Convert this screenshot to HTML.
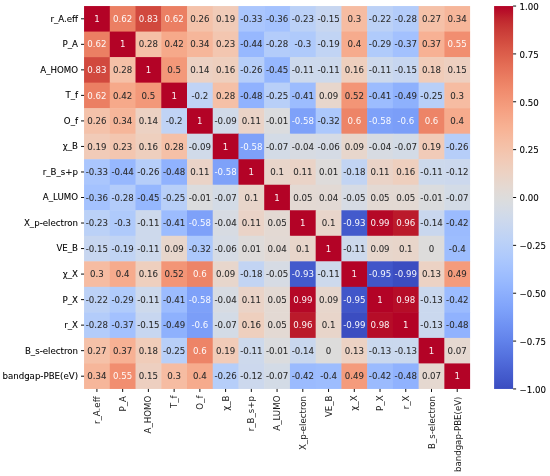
<!DOCTYPE html>
<html lang="en"><head><meta charset="utf-8"><title>Correlation heatmap</title>
<style>html,body{margin:0;padding:0;background:#fff}body{width:550px;height:476px;overflow:hidden}svg{display:block}text{font-family:"DejaVu Sans","Liberation Sans",sans-serif;font-size:8.64px;stroke:#000;stroke-width:0.08px}.w{fill:#fff;fill-opacity:.94;stroke:none}.d{fill:#2b2b2b;stroke:#2b2b2b;stroke-width:0.06px}.r{stroke:none;fill:#1c1c1c}</style></head><body>
<svg width="550" height="476" viewBox="0 0 550 476">
<rect width="550" height="476" fill="#ffffff"/>
<defs><linearGradient id="cw" x1="0" y1="0" x2="0" y2="1"><stop offset="0.0000" stop-color="#b30326"/><stop offset="0.0156" stop-color="#b81129"/><stop offset="0.0312" stop-color="#be232d"/><stop offset="0.0469" stop-color="#c43032"/><stop offset="0.0625" stop-color="#c93b37"/><stop offset="0.0781" stop-color="#ce443c"/><stop offset="0.0938" stop-color="#d34d40"/><stop offset="0.1094" stop-color="#d85646"/><stop offset="0.1250" stop-color="#dc5e4b"/><stop offset="0.1406" stop-color="#e06650"/><stop offset="0.1562" stop-color="#e46e56"/><stop offset="0.1719" stop-color="#e7755c"/><stop offset="0.1875" stop-color="#ea7d61"/><stop offset="0.2031" stop-color="#ed8467"/><stop offset="0.2188" stop-color="#f08b6d"/><stop offset="0.2344" stop-color="#f29173"/><stop offset="0.2500" stop-color="#f39879"/><stop offset="0.2656" stop-color="#f59e7f"/><stop offset="0.2812" stop-color="#f6a486"/><stop offset="0.2969" stop-color="#f6aa8c"/><stop offset="0.3125" stop-color="#f7b092"/><stop offset="0.3281" stop-color="#f7b598"/><stop offset="0.3438" stop-color="#f6ba9f"/><stop offset="0.3594" stop-color="#f5bfa5"/><stop offset="0.3750" stop-color="#f4c3ab"/><stop offset="0.3906" stop-color="#f2c7b2"/><stop offset="0.4062" stop-color="#f1cbb8"/><stop offset="0.4219" stop-color="#eecfbe"/><stop offset="0.4375" stop-color="#ecd2c4"/><stop offset="0.4531" stop-color="#e8d5ca"/><stop offset="0.4688" stop-color="#e5d8d0"/><stop offset="0.4844" stop-color="#e1dad6"/><stop offset="0.5000" stop-color="#dddcdb"/><stop offset="0.5156" stop-color="#d9dce0"/><stop offset="0.5312" stop-color="#d5dbe5"/><stop offset="0.5469" stop-color="#d0dae9"/><stop offset="0.5625" stop-color="#ccd8ed"/><stop offset="0.5781" stop-color="#c7d6f0"/><stop offset="0.5938" stop-color="#c2d4f3"/><stop offset="0.6094" stop-color="#bdd2f6"/><stop offset="0.6250" stop-color="#b8cff8"/><stop offset="0.6406" stop-color="#b3ccfa"/><stop offset="0.6562" stop-color="#aec9fc"/><stop offset="0.6719" stop-color="#a8c5fd"/><stop offset="0.6875" stop-color="#a3c1fe"/><stop offset="0.7031" stop-color="#9dbdfe"/><stop offset="0.7188" stop-color="#98b9fe"/><stop offset="0.7344" stop-color="#92b4fe"/><stop offset="0.7500" stop-color="#8daffd"/><stop offset="0.7656" stop-color="#87aafc"/><stop offset="0.7812" stop-color="#82a5fb"/><stop offset="0.7969" stop-color="#7ca0f9"/><stop offset="0.8125" stop-color="#779af6"/><stop offset="0.8281" stop-color="#7194f4"/><stop offset="0.8438" stop-color="#6c8ef1"/><stop offset="0.8594" stop-color="#6788ed"/><stop offset="0.8750" stop-color="#6182ea"/><stop offset="0.8906" stop-color="#5c7be5"/><stop offset="0.9062" stop-color="#5775e1"/><stop offset="0.9219" stop-color="#526edc"/><stop offset="0.9375" stop-color="#4d67d7"/><stop offset="0.9531" stop-color="#4860d1"/><stop offset="0.9688" stop-color="#435acc"/><stop offset="0.9844" stop-color="#3f53c6"/><stop offset="1.0000" stop-color="#3a4cc0"/></linearGradient></defs>
<g>
<rect x="84.05" y="6.05" width="26.24" height="26.03" fill="#b30326"/>
<rect x="109.79" y="6.05" width="26.24" height="26.03" fill="#eb7f63"/>
<rect x="135.52" y="6.05" width="26.24" height="26.03" fill="#d1493e"/>
<rect x="161.26" y="6.05" width="26.24" height="26.03" fill="#eb7f63"/>
<rect x="187.00" y="6.05" width="26.24" height="26.03" fill="#f4c2aa"/>
<rect x="212.73" y="6.05" width="26.24" height="26.03" fill="#f1cbb8"/>
<rect x="238.47" y="6.05" width="26.24" height="26.03" fill="#aac6fd"/>
<rect x="264.21" y="6.05" width="26.24" height="26.03" fill="#a4c2fe"/>
<rect x="289.94" y="6.05" width="26.24" height="26.03" fill="#bbd1f7"/>
<rect x="315.68" y="6.05" width="26.24" height="26.03" fill="#c7d6f0"/>
<rect x="341.42" y="6.05" width="26.24" height="26.03" fill="#f6bca2"/>
<rect x="367.15" y="6.05" width="26.24" height="26.03" fill="#bcd1f6"/>
<rect x="392.89" y="6.05" width="26.24" height="26.03" fill="#b3ccfa"/>
<rect x="418.63" y="6.05" width="26.24" height="26.03" fill="#f5c1a8"/>
<rect x="444.36" y="6.05" width="25.74" height="26.03" fill="#f6b69a"/>
<rect x="84.05" y="31.58" width="26.24" height="26.03" fill="#eb7f63"/>
<rect x="109.79" y="31.58" width="26.24" height="26.03" fill="#b30326"/>
<rect x="135.52" y="31.58" width="26.24" height="26.03" fill="#f5c0a7"/>
<rect x="161.26" y="31.58" width="26.24" height="26.03" fill="#f6a98a"/>
<rect x="187.00" y="31.58" width="26.24" height="26.03" fill="#f6b69a"/>
<rect x="212.73" y="31.58" width="26.24" height="26.03" fill="#f3c6b0"/>
<rect x="238.47" y="31.58" width="26.24" height="26.03" fill="#97b8fe"/>
<rect x="264.21" y="31.58" width="26.24" height="26.03" fill="#b3ccfa"/>
<rect x="289.94" y="31.58" width="26.24" height="26.03" fill="#afcafb"/>
<rect x="315.68" y="31.58" width="26.24" height="26.03" fill="#c1d4f4"/>
<rect x="341.42" y="31.58" width="26.24" height="26.03" fill="#f6ab8d"/>
<rect x="367.15" y="31.58" width="26.24" height="26.03" fill="#b0cbfb"/>
<rect x="392.89" y="31.58" width="26.24" height="26.03" fill="#a3c1fe"/>
<rect x="418.63" y="31.58" width="26.24" height="26.03" fill="#f7b194"/>
<rect x="444.36" y="31.58" width="25.74" height="26.03" fill="#f18e70"/>
<rect x="84.05" y="57.10" width="26.24" height="26.03" fill="#d1493e"/>
<rect x="109.79" y="57.10" width="26.24" height="26.03" fill="#f5c0a7"/>
<rect x="135.52" y="57.10" width="26.24" height="26.03" fill="#b30326"/>
<rect x="161.26" y="57.10" width="26.24" height="26.03" fill="#f39879"/>
<rect x="187.00" y="57.10" width="26.24" height="26.03" fill="#ecd1c3"/>
<rect x="212.73" y="57.10" width="26.24" height="26.03" fill="#eecfbe"/>
<rect x="238.47" y="57.10" width="26.24" height="26.03" fill="#b6cef9"/>
<rect x="264.21" y="57.10" width="26.24" height="26.03" fill="#95b7fe"/>
<rect x="289.94" y="57.10" width="26.24" height="26.03" fill="#cdd9ec"/>
<rect x="315.68" y="57.10" width="26.24" height="26.03" fill="#cdd9ec"/>
<rect x="341.42" y="57.10" width="26.24" height="26.03" fill="#eecfbe"/>
<rect x="367.15" y="57.10" width="26.24" height="26.03" fill="#cdd9ec"/>
<rect x="392.89" y="57.10" width="26.24" height="26.03" fill="#c7d6f0"/>
<rect x="418.63" y="57.10" width="26.24" height="26.03" fill="#f0ccb9"/>
<rect x="444.36" y="57.10" width="25.74" height="26.03" fill="#edcfc0"/>
<rect x="84.05" y="82.63" width="26.24" height="26.03" fill="#eb7f63"/>
<rect x="109.79" y="82.63" width="26.24" height="26.03" fill="#f6a98a"/>
<rect x="135.52" y="82.63" width="26.24" height="26.03" fill="#f39879"/>
<rect x="161.26" y="82.63" width="26.24" height="26.03" fill="#b30326"/>
<rect x="187.00" y="82.63" width="26.24" height="26.03" fill="#c0d3f5"/>
<rect x="212.73" y="82.63" width="26.24" height="26.03" fill="#f5c0a7"/>
<rect x="238.47" y="82.63" width="26.24" height="26.03" fill="#90b2fe"/>
<rect x="264.21" y="82.63" width="26.24" height="26.03" fill="#b8cff8"/>
<rect x="289.94" y="82.63" width="26.24" height="26.03" fill="#9cbcfe"/>
<rect x="315.68" y="82.63" width="26.24" height="26.03" fill="#e7d6cc"/>
<rect x="341.42" y="82.63" width="26.24" height="26.03" fill="#f39576"/>
<rect x="367.15" y="82.63" width="26.24" height="26.03" fill="#9cbcfe"/>
<rect x="392.89" y="82.63" width="26.24" height="26.03" fill="#8eb1fd"/>
<rect x="418.63" y="82.63" width="26.24" height="26.03" fill="#b8cff8"/>
<rect x="444.36" y="82.63" width="25.74" height="26.03" fill="#f6bca2"/>
<rect x="84.05" y="108.16" width="26.24" height="26.03" fill="#f4c2aa"/>
<rect x="109.79" y="108.16" width="26.24" height="26.03" fill="#f6b69a"/>
<rect x="135.52" y="108.16" width="26.24" height="26.03" fill="#ecd1c3"/>
<rect x="161.26" y="108.16" width="26.24" height="26.03" fill="#c0d3f5"/>
<rect x="187.00" y="108.16" width="26.24" height="26.03" fill="#b30326"/>
<rect x="212.73" y="108.16" width="26.24" height="26.03" fill="#d0dae9"/>
<rect x="238.47" y="108.16" width="26.24" height="26.03" fill="#ead3c7"/>
<rect x="264.21" y="108.16" width="26.24" height="26.03" fill="#dbdcde"/>
<rect x="289.94" y="108.16" width="26.24" height="26.03" fill="#7ea1f9"/>
<rect x="315.68" y="108.16" width="26.24" height="26.03" fill="#acc8fc"/>
<rect x="341.42" y="108.16" width="26.24" height="26.03" fill="#ed8467"/>
<rect x="367.15" y="108.16" width="26.24" height="26.03" fill="#7ea1f9"/>
<rect x="392.89" y="108.16" width="26.24" height="26.03" fill="#7b9ef8"/>
<rect x="418.63" y="108.16" width="26.24" height="26.03" fill="#ed8467"/>
<rect x="444.36" y="108.16" width="25.74" height="26.03" fill="#f6ab8d"/>
<rect x="84.05" y="133.68" width="26.24" height="26.03" fill="#f1cbb8"/>
<rect x="109.79" y="133.68" width="26.24" height="26.03" fill="#f3c6b0"/>
<rect x="135.52" y="133.68" width="26.24" height="26.03" fill="#eecfbe"/>
<rect x="161.26" y="133.68" width="26.24" height="26.03" fill="#f5c0a7"/>
<rect x="187.00" y="133.68" width="26.24" height="26.03" fill="#d0dae9"/>
<rect x="212.73" y="133.68" width="26.24" height="26.03" fill="#b30326"/>
<rect x="238.47" y="133.68" width="26.24" height="26.03" fill="#7ea1f9"/>
<rect x="264.21" y="133.68" width="26.24" height="26.03" fill="#d3dbe6"/>
<rect x="289.94" y="133.68" width="26.24" height="26.03" fill="#d7dbe2"/>
<rect x="315.68" y="133.68" width="26.24" height="26.03" fill="#d5dbe5"/>
<rect x="341.42" y="133.68" width="26.24" height="26.03" fill="#e7d6cc"/>
<rect x="367.15" y="133.68" width="26.24" height="26.03" fill="#d7dbe2"/>
<rect x="392.89" y="133.68" width="26.24" height="26.03" fill="#d3dbe6"/>
<rect x="418.63" y="133.68" width="26.24" height="26.03" fill="#f1cbb8"/>
<rect x="444.36" y="133.68" width="25.74" height="26.03" fill="#b6cef9"/>
<rect x="84.05" y="159.21" width="26.24" height="26.03" fill="#aac6fd"/>
<rect x="109.79" y="159.21" width="26.24" height="26.03" fill="#97b8fe"/>
<rect x="135.52" y="159.21" width="26.24" height="26.03" fill="#b6cef9"/>
<rect x="161.26" y="159.21" width="26.24" height="26.03" fill="#90b2fe"/>
<rect x="187.00" y="159.21" width="26.24" height="26.03" fill="#ead3c7"/>
<rect x="212.73" y="159.21" width="26.24" height="26.03" fill="#7ea1f9"/>
<rect x="238.47" y="159.21" width="26.24" height="26.03" fill="#b30326"/>
<rect x="264.21" y="159.21" width="26.24" height="26.03" fill="#e8d5ca"/>
<rect x="289.94" y="159.21" width="26.24" height="26.03" fill="#ead3c7"/>
<rect x="315.68" y="159.21" width="26.24" height="26.03" fill="#dedbda"/>
<rect x="341.42" y="159.21" width="26.24" height="26.03" fill="#c2d4f3"/>
<rect x="367.15" y="159.21" width="26.24" height="26.03" fill="#ead3c7"/>
<rect x="392.89" y="159.21" width="26.24" height="26.03" fill="#eecfbe"/>
<rect x="418.63" y="159.21" width="26.24" height="26.03" fill="#cdd9ec"/>
<rect x="444.36" y="159.21" width="25.74" height="26.03" fill="#ccd8ed"/>
<rect x="84.05" y="184.74" width="26.24" height="26.03" fill="#a4c2fe"/>
<rect x="109.79" y="184.74" width="26.24" height="26.03" fill="#b3ccfa"/>
<rect x="135.52" y="184.74" width="26.24" height="26.03" fill="#95b7fe"/>
<rect x="161.26" y="184.74" width="26.24" height="26.03" fill="#b8cff8"/>
<rect x="187.00" y="184.74" width="26.24" height="26.03" fill="#dbdcde"/>
<rect x="212.73" y="184.74" width="26.24" height="26.03" fill="#d3dbe6"/>
<rect x="238.47" y="184.74" width="26.24" height="26.03" fill="#e8d5ca"/>
<rect x="264.21" y="184.74" width="26.24" height="26.03" fill="#b30326"/>
<rect x="289.94" y="184.74" width="26.24" height="26.03" fill="#e3d9d3"/>
<rect x="315.68" y="184.74" width="26.24" height="26.03" fill="#e2d9d4"/>
<rect x="341.42" y="184.74" width="26.24" height="26.03" fill="#d6dbe4"/>
<rect x="367.15" y="184.74" width="26.24" height="26.03" fill="#e3d9d3"/>
<rect x="392.89" y="184.74" width="26.24" height="26.03" fill="#e3d9d3"/>
<rect x="418.63" y="184.74" width="26.24" height="26.03" fill="#dbdcde"/>
<rect x="444.36" y="184.74" width="25.74" height="26.03" fill="#d3dbe6"/>
<rect x="84.05" y="210.26" width="26.24" height="26.03" fill="#bbd1f7"/>
<rect x="109.79" y="210.26" width="26.24" height="26.03" fill="#afcafb"/>
<rect x="135.52" y="210.26" width="26.24" height="26.03" fill="#cdd9ec"/>
<rect x="161.26" y="210.26" width="26.24" height="26.03" fill="#9cbcfe"/>
<rect x="187.00" y="210.26" width="26.24" height="26.03" fill="#7ea1f9"/>
<rect x="212.73" y="210.26" width="26.24" height="26.03" fill="#d7dbe2"/>
<rect x="238.47" y="210.26" width="26.24" height="26.03" fill="#ead3c7"/>
<rect x="264.21" y="210.26" width="26.24" height="26.03" fill="#e3d9d3"/>
<rect x="289.94" y="210.26" width="26.24" height="26.03" fill="#b30326"/>
<rect x="315.68" y="210.26" width="26.24" height="26.03" fill="#e8d5ca"/>
<rect x="341.42" y="210.26" width="26.24" height="26.03" fill="#435acc"/>
<rect x="367.15" y="210.26" width="26.24" height="26.03" fill="#b50827"/>
<rect x="392.89" y="210.26" width="26.24" height="26.03" fill="#bb1a2b"/>
<rect x="418.63" y="210.26" width="26.24" height="26.03" fill="#c9d7ee"/>
<rect x="444.36" y="210.26" width="25.74" height="26.03" fill="#9bbbfe"/>
<rect x="84.05" y="235.79" width="26.24" height="26.03" fill="#c7d6f0"/>
<rect x="109.79" y="235.79" width="26.24" height="26.03" fill="#c1d4f4"/>
<rect x="135.52" y="235.79" width="26.24" height="26.03" fill="#cdd9ec"/>
<rect x="161.26" y="235.79" width="26.24" height="26.03" fill="#e7d6cc"/>
<rect x="187.00" y="235.79" width="26.24" height="26.03" fill="#acc8fc"/>
<rect x="212.73" y="235.79" width="26.24" height="26.03" fill="#d5dbe5"/>
<rect x="238.47" y="235.79" width="26.24" height="26.03" fill="#dedbda"/>
<rect x="264.21" y="235.79" width="26.24" height="26.03" fill="#e2d9d4"/>
<rect x="289.94" y="235.79" width="26.24" height="26.03" fill="#e8d5ca"/>
<rect x="315.68" y="235.79" width="26.24" height="26.03" fill="#b30326"/>
<rect x="341.42" y="235.79" width="26.24" height="26.03" fill="#cdd9ec"/>
<rect x="367.15" y="235.79" width="26.24" height="26.03" fill="#e7d6cc"/>
<rect x="392.89" y="235.79" width="26.24" height="26.03" fill="#e8d5ca"/>
<rect x="418.63" y="235.79" width="26.24" height="26.03" fill="#dddcdb"/>
<rect x="444.36" y="235.79" width="25.74" height="26.03" fill="#9dbdfe"/>
<rect x="84.05" y="261.32" width="26.24" height="26.03" fill="#f6bca2"/>
<rect x="109.79" y="261.32" width="26.24" height="26.03" fill="#f6ab8d"/>
<rect x="135.52" y="261.32" width="26.24" height="26.03" fill="#eecfbe"/>
<rect x="161.26" y="261.32" width="26.24" height="26.03" fill="#f39576"/>
<rect x="187.00" y="261.32" width="26.24" height="26.03" fill="#ed8467"/>
<rect x="212.73" y="261.32" width="26.24" height="26.03" fill="#e7d6cc"/>
<rect x="238.47" y="261.32" width="26.24" height="26.03" fill="#c2d4f3"/>
<rect x="264.21" y="261.32" width="26.24" height="26.03" fill="#d6dbe4"/>
<rect x="289.94" y="261.32" width="26.24" height="26.03" fill="#435acc"/>
<rect x="315.68" y="261.32" width="26.24" height="26.03" fill="#cdd9ec"/>
<rect x="341.42" y="261.32" width="26.24" height="26.03" fill="#b30326"/>
<rect x="367.15" y="261.32" width="26.24" height="26.03" fill="#4156c9"/>
<rect x="392.89" y="261.32" width="26.24" height="26.03" fill="#3b4dc1"/>
<rect x="418.63" y="261.32" width="26.24" height="26.03" fill="#ecd2c4"/>
<rect x="444.36" y="261.32" width="25.74" height="26.03" fill="#f49b7c"/>
<rect x="84.05" y="286.84" width="26.24" height="26.03" fill="#bcd1f6"/>
<rect x="109.79" y="286.84" width="26.24" height="26.03" fill="#b0cbfb"/>
<rect x="135.52" y="286.84" width="26.24" height="26.03" fill="#cdd9ec"/>
<rect x="161.26" y="286.84" width="26.24" height="26.03" fill="#9cbcfe"/>
<rect x="187.00" y="286.84" width="26.24" height="26.03" fill="#7ea1f9"/>
<rect x="212.73" y="286.84" width="26.24" height="26.03" fill="#d7dbe2"/>
<rect x="238.47" y="286.84" width="26.24" height="26.03" fill="#ead3c7"/>
<rect x="264.21" y="286.84" width="26.24" height="26.03" fill="#e3d9d3"/>
<rect x="289.94" y="286.84" width="26.24" height="26.03" fill="#b50827"/>
<rect x="315.68" y="286.84" width="26.24" height="26.03" fill="#e7d6cc"/>
<rect x="341.42" y="286.84" width="26.24" height="26.03" fill="#4156c9"/>
<rect x="367.15" y="286.84" width="26.24" height="26.03" fill="#b30326"/>
<rect x="392.89" y="286.84" width="26.24" height="26.03" fill="#b60d28"/>
<rect x="418.63" y="286.84" width="26.24" height="26.03" fill="#cad8ee"/>
<rect x="444.36" y="286.84" width="25.74" height="26.03" fill="#9bbbfe"/>
<rect x="84.05" y="312.37" width="26.24" height="26.03" fill="#b3ccfa"/>
<rect x="109.79" y="312.37" width="26.24" height="26.03" fill="#a3c1fe"/>
<rect x="135.52" y="312.37" width="26.24" height="26.03" fill="#c7d6f0"/>
<rect x="161.26" y="312.37" width="26.24" height="26.03" fill="#8eb1fd"/>
<rect x="187.00" y="312.37" width="26.24" height="26.03" fill="#7b9ef8"/>
<rect x="212.73" y="312.37" width="26.24" height="26.03" fill="#d3dbe6"/>
<rect x="238.47" y="312.37" width="26.24" height="26.03" fill="#eecfbe"/>
<rect x="264.21" y="312.37" width="26.24" height="26.03" fill="#e3d9d3"/>
<rect x="289.94" y="312.37" width="26.24" height="26.03" fill="#bb1a2b"/>
<rect x="315.68" y="312.37" width="26.24" height="26.03" fill="#e8d5ca"/>
<rect x="341.42" y="312.37" width="26.24" height="26.03" fill="#3b4dc1"/>
<rect x="367.15" y="312.37" width="26.24" height="26.03" fill="#b60d28"/>
<rect x="392.89" y="312.37" width="26.24" height="26.03" fill="#b30326"/>
<rect x="418.63" y="312.37" width="26.24" height="26.03" fill="#cad8ee"/>
<rect x="444.36" y="312.37" width="25.74" height="26.03" fill="#90b2fe"/>
<rect x="84.05" y="337.90" width="26.24" height="26.03" fill="#f5c1a8"/>
<rect x="109.79" y="337.90" width="26.24" height="26.03" fill="#f7b194"/>
<rect x="135.52" y="337.90" width="26.24" height="26.03" fill="#f0ccb9"/>
<rect x="161.26" y="337.90" width="26.24" height="26.03" fill="#b8cff8"/>
<rect x="187.00" y="337.90" width="26.24" height="26.03" fill="#ed8467"/>
<rect x="212.73" y="337.90" width="26.24" height="26.03" fill="#f1cbb8"/>
<rect x="238.47" y="337.90" width="26.24" height="26.03" fill="#cdd9ec"/>
<rect x="264.21" y="337.90" width="26.24" height="26.03" fill="#dbdcde"/>
<rect x="289.94" y="337.90" width="26.24" height="26.03" fill="#c9d7ee"/>
<rect x="315.68" y="337.90" width="26.24" height="26.03" fill="#dddcdb"/>
<rect x="341.42" y="337.90" width="26.24" height="26.03" fill="#ecd2c4"/>
<rect x="367.15" y="337.90" width="26.24" height="26.03" fill="#cad8ee"/>
<rect x="392.89" y="337.90" width="26.24" height="26.03" fill="#cad8ee"/>
<rect x="418.63" y="337.90" width="26.24" height="26.03" fill="#b30326"/>
<rect x="444.36" y="337.90" width="25.74" height="26.03" fill="#e5d8d0"/>
<rect x="84.05" y="363.42" width="26.24" height="25.53" fill="#f6b69a"/>
<rect x="109.79" y="363.42" width="26.24" height="25.53" fill="#f18e70"/>
<rect x="135.52" y="363.42" width="26.24" height="25.53" fill="#edcfc0"/>
<rect x="161.26" y="363.42" width="26.24" height="25.53" fill="#f6bca2"/>
<rect x="187.00" y="363.42" width="26.24" height="25.53" fill="#f6ab8d"/>
<rect x="212.73" y="363.42" width="26.24" height="25.53" fill="#b6cef9"/>
<rect x="238.47" y="363.42" width="26.24" height="25.53" fill="#ccd8ed"/>
<rect x="264.21" y="363.42" width="26.24" height="25.53" fill="#d3dbe6"/>
<rect x="289.94" y="363.42" width="26.24" height="25.53" fill="#9bbbfe"/>
<rect x="315.68" y="363.42" width="26.24" height="25.53" fill="#9dbdfe"/>
<rect x="341.42" y="363.42" width="26.24" height="25.53" fill="#f49b7c"/>
<rect x="367.15" y="363.42" width="26.24" height="25.53" fill="#9bbbfe"/>
<rect x="392.89" y="363.42" width="26.24" height="25.53" fill="#90b2fe"/>
<rect x="418.63" y="363.42" width="26.24" height="25.53" fill="#e5d8d0"/>
<rect x="444.36" y="363.42" width="25.74" height="25.53" fill="#b30326"/>
</g>
<rect x="494.10" y="6.05" width="19.00" height="382.90" fill="url(#cw)"/>
<g stroke="#000" stroke-width="0.95">
<line x1="96.92" y1="388.95" x2="96.92" y2="391.97"/>
<line x1="81.03" y1="18.81" x2="84.05" y2="18.81"/>
<line x1="122.66" y1="388.95" x2="122.66" y2="391.97"/>
<line x1="81.03" y1="44.34" x2="84.05" y2="44.34"/>
<line x1="148.39" y1="388.95" x2="148.39" y2="391.97"/>
<line x1="81.03" y1="69.87" x2="84.05" y2="69.87"/>
<line x1="174.13" y1="388.95" x2="174.13" y2="391.97"/>
<line x1="81.03" y1="95.39" x2="84.05" y2="95.39"/>
<line x1="199.87" y1="388.95" x2="199.87" y2="391.97"/>
<line x1="81.03" y1="120.92" x2="84.05" y2="120.92"/>
<line x1="225.60" y1="388.95" x2="225.60" y2="391.97"/>
<line x1="81.03" y1="146.45" x2="84.05" y2="146.45"/>
<line x1="251.34" y1="388.95" x2="251.34" y2="391.97"/>
<line x1="81.03" y1="171.97" x2="84.05" y2="171.97"/>
<line x1="277.07" y1="388.95" x2="277.07" y2="391.97"/>
<line x1="81.03" y1="197.50" x2="84.05" y2="197.50"/>
<line x1="302.81" y1="388.95" x2="302.81" y2="391.97"/>
<line x1="81.03" y1="223.03" x2="84.05" y2="223.03"/>
<line x1="328.55" y1="388.95" x2="328.55" y2="391.97"/>
<line x1="81.03" y1="248.55" x2="84.05" y2="248.55"/>
<line x1="354.29" y1="388.95" x2="354.29" y2="391.97"/>
<line x1="81.03" y1="274.08" x2="84.05" y2="274.08"/>
<line x1="380.02" y1="388.95" x2="380.02" y2="391.97"/>
<line x1="81.03" y1="299.61" x2="84.05" y2="299.61"/>
<line x1="405.76" y1="388.95" x2="405.76" y2="391.97"/>
<line x1="81.03" y1="325.13" x2="84.05" y2="325.13"/>
<line x1="431.50" y1="388.95" x2="431.50" y2="391.97"/>
<line x1="81.03" y1="350.66" x2="84.05" y2="350.66"/>
<line x1="457.23" y1="388.95" x2="457.23" y2="391.97"/>
<line x1="81.03" y1="376.19" x2="84.05" y2="376.19"/>
<line x1="513.10" y1="6.05" x2="516.12" y2="6.05"/>
<line x1="513.10" y1="53.91" x2="516.12" y2="53.91"/>
<line x1="513.10" y1="101.77" x2="516.12" y2="101.77"/>
<line x1="513.10" y1="149.64" x2="516.12" y2="149.64"/>
<line x1="513.10" y1="197.50" x2="516.12" y2="197.50"/>
<line x1="513.10" y1="245.36" x2="516.12" y2="245.36"/>
<line x1="513.10" y1="293.22" x2="516.12" y2="293.22"/>
<line x1="513.10" y1="341.09" x2="516.12" y2="341.09"/>
<line x1="513.10" y1="388.95" x2="516.12" y2="388.95"/>
</g>
<text x="100.08" y="424.00" class="r" transform="rotate(-90 100.08 424.00)">r_A.eff</text>
<text x="125.70" y="411.47" class="r" transform="rotate(-90 125.70 411.47)">P_A</text>
<text x="151.48" y="433.40" class="r" transform="rotate(-90 151.48 433.40)">A_HOMO</text>
<text x="177.29" y="408.07" class="r" transform="rotate(-90 177.29 408.07)">T_f</text>
<text x="203.03" y="409.69" class="r" transform="rotate(-90 203.03 409.69)">O_f</text>
<text x="228.65" y="410.67" class="r" transform="rotate(-90 228.65 410.67)">χ_B</text>
<text x="254.38" y="431.36" class="r" transform="rotate(-90 254.38 431.36)">r_B_s+p</text>
<text x="280.16" y="430.71" class="r" transform="rotate(-90 280.16 430.71)">A_LUMO</text>
<text x="305.98" y="450.03" class="r" transform="rotate(-90 305.98 450.03)">X_p-electron</text>
<text x="331.59" y="417.04" class="r" transform="rotate(-90 331.59 417.04)">VE_B</text>
<text x="357.33" y="410.66" class="r" transform="rotate(-90 357.33 410.66)">χ_X</text>
<text x="383.07" y="410.88" class="r" transform="rotate(-90 383.07 410.88)">P_X</text>
<text x="408.80" y="409.32" class="r" transform="rotate(-90 408.80 409.32)">r_X</text>
<text x="434.66" y="449.06" class="r" transform="rotate(-90 434.66 449.06)">B_s-electron</text>
<text x="460.52" y="472.07" class="r" transform="rotate(-90 460.52 472.07)">bandgap-PBE(eV)</text>
<text x="78.00" y="21.83" text-anchor="end">r_A.eff</text>
<text x="78.00" y="47.23" text-anchor="end">P_A</text>
<text x="78.00" y="72.80" text-anchor="end">A_HOMO</text>
<text x="78.00" y="98.41" text-anchor="end">T_f</text>
<text x="78.00" y="123.93" text-anchor="end">O_f</text>
<text x="78.00" y="149.34" text-anchor="end">χ_B</text>
<text x="78.00" y="174.87" text-anchor="end">r_B_s+p</text>
<text x="78.00" y="200.44" text-anchor="end">A_LUMO</text>
<text x="78.00" y="226.04" text-anchor="end">X_p-electron</text>
<text x="78.00" y="251.45" text-anchor="end">VE_B</text>
<text x="78.00" y="276.97" text-anchor="end">χ_X</text>
<text x="78.00" y="302.50" text-anchor="end">P_X</text>
<text x="78.00" y="328.03" text-anchor="end">r_X</text>
<text x="78.00" y="353.67" text-anchor="end">B_s-electron</text>
<text x="78.00" y="379.32" text-anchor="end">bandgap-PBE(eV)</text>
<text x="96.92" y="21.95" text-anchor="middle" class="w">1</text>
<text x="122.65" y="21.95" text-anchor="middle" class="w">0.62</text>
<text x="148.39" y="21.95" text-anchor="middle" class="w">0.83</text>
<text x="174.13" y="21.95" text-anchor="middle" class="w">0.62</text>
<text x="199.87" y="21.95" text-anchor="middle" class="d">0.26</text>
<text x="225.60" y="21.95" text-anchor="middle" class="d">0.19</text>
<text x="251.34" y="21.95" text-anchor="middle" class="d">-0.33</text>
<text x="277.07" y="21.95" text-anchor="middle" class="d">-0.36</text>
<text x="302.81" y="21.95" text-anchor="middle" class="d">-0.23</text>
<text x="328.55" y="21.95" text-anchor="middle" class="d">-0.15</text>
<text x="354.29" y="21.95" text-anchor="middle" class="d">0.3</text>
<text x="380.02" y="21.95" text-anchor="middle" class="d">-0.22</text>
<text x="405.76" y="21.95" text-anchor="middle" class="d">-0.28</text>
<text x="431.50" y="21.95" text-anchor="middle" class="d">0.27</text>
<text x="457.23" y="21.95" text-anchor="middle" class="d">0.34</text>
<text x="96.92" y="47.47" text-anchor="middle" class="w">0.62</text>
<text x="122.65" y="47.47" text-anchor="middle" class="w">1</text>
<text x="148.39" y="47.47" text-anchor="middle" class="d">0.28</text>
<text x="174.13" y="47.47" text-anchor="middle" class="d">0.42</text>
<text x="199.87" y="47.47" text-anchor="middle" class="d">0.34</text>
<text x="225.60" y="47.47" text-anchor="middle" class="d">0.23</text>
<text x="251.34" y="47.47" text-anchor="middle" class="d">-0.44</text>
<text x="277.07" y="47.47" text-anchor="middle" class="d">-0.28</text>
<text x="302.81" y="47.47" text-anchor="middle" class="d">-0.3</text>
<text x="328.55" y="47.47" text-anchor="middle" class="d">-0.19</text>
<text x="354.29" y="47.47" text-anchor="middle" class="d">0.4</text>
<text x="380.02" y="47.47" text-anchor="middle" class="d">-0.29</text>
<text x="405.76" y="47.47" text-anchor="middle" class="d">-0.37</text>
<text x="431.50" y="47.47" text-anchor="middle" class="d">0.37</text>
<text x="457.23" y="47.47" text-anchor="middle" class="w">0.55</text>
<text x="96.92" y="73.00" text-anchor="middle" class="w">0.83</text>
<text x="122.65" y="73.00" text-anchor="middle" class="d">0.28</text>
<text x="148.39" y="73.00" text-anchor="middle" class="w">1</text>
<text x="174.13" y="73.00" text-anchor="middle" class="d">0.5</text>
<text x="199.87" y="73.00" text-anchor="middle" class="d">0.14</text>
<text x="225.60" y="73.00" text-anchor="middle" class="d">0.16</text>
<text x="251.34" y="73.00" text-anchor="middle" class="d">-0.26</text>
<text x="277.07" y="73.00" text-anchor="middle" class="d">-0.45</text>
<text x="302.81" y="73.00" text-anchor="middle" class="d">-0.11</text>
<text x="328.55" y="73.00" text-anchor="middle" class="d">-0.11</text>
<text x="354.29" y="73.00" text-anchor="middle" class="d">0.16</text>
<text x="380.02" y="73.00" text-anchor="middle" class="d">-0.11</text>
<text x="405.76" y="73.00" text-anchor="middle" class="d">-0.15</text>
<text x="431.50" y="73.00" text-anchor="middle" class="d">0.18</text>
<text x="457.23" y="73.00" text-anchor="middle" class="d">0.15</text>
<text x="96.92" y="98.53" text-anchor="middle" class="w">0.62</text>
<text x="122.65" y="98.53" text-anchor="middle" class="d">0.42</text>
<text x="148.39" y="98.53" text-anchor="middle" class="d">0.5</text>
<text x="174.13" y="98.53" text-anchor="middle" class="w">1</text>
<text x="199.87" y="98.53" text-anchor="middle" class="d">-0.2</text>
<text x="225.60" y="98.53" text-anchor="middle" class="d">0.28</text>
<text x="251.34" y="98.53" text-anchor="middle" class="d">-0.48</text>
<text x="277.07" y="98.53" text-anchor="middle" class="d">-0.25</text>
<text x="302.81" y="98.53" text-anchor="middle" class="d">-0.41</text>
<text x="328.55" y="98.53" text-anchor="middle" class="d">0.09</text>
<text x="354.29" y="98.53" text-anchor="middle" class="d">0.52</text>
<text x="380.02" y="98.53" text-anchor="middle" class="d">-0.41</text>
<text x="405.76" y="98.53" text-anchor="middle" class="d">-0.49</text>
<text x="431.50" y="98.53" text-anchor="middle" class="d">-0.25</text>
<text x="457.23" y="98.53" text-anchor="middle" class="d">0.3</text>
<text x="96.92" y="124.05" text-anchor="middle" class="d">0.26</text>
<text x="122.65" y="124.05" text-anchor="middle" class="d">0.34</text>
<text x="148.39" y="124.05" text-anchor="middle" class="d">0.14</text>
<text x="174.13" y="124.05" text-anchor="middle" class="d">-0.2</text>
<text x="199.87" y="124.05" text-anchor="middle" class="w">1</text>
<text x="225.60" y="124.05" text-anchor="middle" class="d">-0.09</text>
<text x="251.34" y="124.05" text-anchor="middle" class="d">0.11</text>
<text x="277.07" y="124.05" text-anchor="middle" class="d">-0.01</text>
<text x="302.81" y="124.05" text-anchor="middle" class="w">-0.58</text>
<text x="328.55" y="124.05" text-anchor="middle" class="d">-0.32</text>
<text x="354.29" y="124.05" text-anchor="middle" class="w">0.6</text>
<text x="380.02" y="124.05" text-anchor="middle" class="w">-0.58</text>
<text x="405.76" y="124.05" text-anchor="middle" class="w">-0.6</text>
<text x="431.50" y="124.05" text-anchor="middle" class="w">0.6</text>
<text x="457.23" y="124.05" text-anchor="middle" class="d">0.4</text>
<text x="96.92" y="149.58" text-anchor="middle" class="d">0.19</text>
<text x="122.65" y="149.58" text-anchor="middle" class="d">0.23</text>
<text x="148.39" y="149.58" text-anchor="middle" class="d">0.16</text>
<text x="174.13" y="149.58" text-anchor="middle" class="d">0.28</text>
<text x="199.87" y="149.58" text-anchor="middle" class="d">-0.09</text>
<text x="225.60" y="149.58" text-anchor="middle" class="w">1</text>
<text x="251.34" y="149.58" text-anchor="middle" class="w">-0.58</text>
<text x="277.07" y="149.58" text-anchor="middle" class="d">-0.07</text>
<text x="302.81" y="149.58" text-anchor="middle" class="d">-0.04</text>
<text x="328.55" y="149.58" text-anchor="middle" class="d">-0.06</text>
<text x="354.29" y="149.58" text-anchor="middle" class="d">0.09</text>
<text x="380.02" y="149.58" text-anchor="middle" class="d">-0.04</text>
<text x="405.76" y="149.58" text-anchor="middle" class="d">-0.07</text>
<text x="431.50" y="149.58" text-anchor="middle" class="d">0.19</text>
<text x="457.23" y="149.58" text-anchor="middle" class="d">-0.26</text>
<text x="96.92" y="175.11" text-anchor="middle" class="d">-0.33</text>
<text x="122.65" y="175.11" text-anchor="middle" class="d">-0.44</text>
<text x="148.39" y="175.11" text-anchor="middle" class="d">-0.26</text>
<text x="174.13" y="175.11" text-anchor="middle" class="d">-0.48</text>
<text x="199.87" y="175.11" text-anchor="middle" class="d">0.11</text>
<text x="225.60" y="175.11" text-anchor="middle" class="w">-0.58</text>
<text x="251.34" y="175.11" text-anchor="middle" class="w">1</text>
<text x="277.07" y="175.11" text-anchor="middle" class="d">0.1</text>
<text x="302.81" y="175.11" text-anchor="middle" class="d">0.11</text>
<text x="328.55" y="175.11" text-anchor="middle" class="d">0.01</text>
<text x="354.29" y="175.11" text-anchor="middle" class="d">-0.18</text>
<text x="380.02" y="175.11" text-anchor="middle" class="d">0.11</text>
<text x="405.76" y="175.11" text-anchor="middle" class="d">0.16</text>
<text x="431.50" y="175.11" text-anchor="middle" class="d">-0.11</text>
<text x="457.23" y="175.11" text-anchor="middle" class="d">-0.12</text>
<text x="96.92" y="200.63" text-anchor="middle" class="d">-0.36</text>
<text x="122.65" y="200.63" text-anchor="middle" class="d">-0.28</text>
<text x="148.39" y="200.63" text-anchor="middle" class="d">-0.45</text>
<text x="174.13" y="200.63" text-anchor="middle" class="d">-0.25</text>
<text x="199.87" y="200.63" text-anchor="middle" class="d">-0.01</text>
<text x="225.60" y="200.63" text-anchor="middle" class="d">-0.07</text>
<text x="251.34" y="200.63" text-anchor="middle" class="d">0.1</text>
<text x="277.07" y="200.63" text-anchor="middle" class="w">1</text>
<text x="302.81" y="200.63" text-anchor="middle" class="d">0.05</text>
<text x="328.55" y="200.63" text-anchor="middle" class="d">0.04</text>
<text x="354.29" y="200.63" text-anchor="middle" class="d">-0.05</text>
<text x="380.02" y="200.63" text-anchor="middle" class="d">0.05</text>
<text x="405.76" y="200.63" text-anchor="middle" class="d">0.05</text>
<text x="431.50" y="200.63" text-anchor="middle" class="d">-0.01</text>
<text x="457.23" y="200.63" text-anchor="middle" class="d">-0.07</text>
<text x="96.92" y="226.16" text-anchor="middle" class="d">-0.23</text>
<text x="122.65" y="226.16" text-anchor="middle" class="d">-0.3</text>
<text x="148.39" y="226.16" text-anchor="middle" class="d">-0.11</text>
<text x="174.13" y="226.16" text-anchor="middle" class="d">-0.41</text>
<text x="199.87" y="226.16" text-anchor="middle" class="w">-0.58</text>
<text x="225.60" y="226.16" text-anchor="middle" class="d">-0.04</text>
<text x="251.34" y="226.16" text-anchor="middle" class="d">0.11</text>
<text x="277.07" y="226.16" text-anchor="middle" class="d">0.05</text>
<text x="302.81" y="226.16" text-anchor="middle" class="w">1</text>
<text x="328.55" y="226.16" text-anchor="middle" class="d">0.1</text>
<text x="354.29" y="226.16" text-anchor="middle" class="w">-0.93</text>
<text x="380.02" y="226.16" text-anchor="middle" class="w">0.99</text>
<text x="405.76" y="226.16" text-anchor="middle" class="w">0.96</text>
<text x="431.50" y="226.16" text-anchor="middle" class="d">-0.14</text>
<text x="457.23" y="226.16" text-anchor="middle" class="d">-0.42</text>
<text x="96.92" y="251.69" text-anchor="middle" class="d">-0.15</text>
<text x="122.65" y="251.69" text-anchor="middle" class="d">-0.19</text>
<text x="148.39" y="251.69" text-anchor="middle" class="d">-0.11</text>
<text x="174.13" y="251.69" text-anchor="middle" class="d">0.09</text>
<text x="199.87" y="251.69" text-anchor="middle" class="d">-0.32</text>
<text x="225.60" y="251.69" text-anchor="middle" class="d">-0.06</text>
<text x="251.34" y="251.69" text-anchor="middle" class="d">0.01</text>
<text x="277.07" y="251.69" text-anchor="middle" class="d">0.04</text>
<text x="302.81" y="251.69" text-anchor="middle" class="d">0.1</text>
<text x="328.55" y="251.69" text-anchor="middle" class="w">1</text>
<text x="354.29" y="251.69" text-anchor="middle" class="d">-0.11</text>
<text x="380.02" y="251.69" text-anchor="middle" class="d">0.09</text>
<text x="405.76" y="251.69" text-anchor="middle" class="d">0.1</text>
<text x="431.50" y="251.69" text-anchor="middle" class="d">0</text>
<text x="457.23" y="251.69" text-anchor="middle" class="d">-0.4</text>
<text x="96.92" y="277.21" text-anchor="middle" class="d">0.3</text>
<text x="122.65" y="277.21" text-anchor="middle" class="d">0.4</text>
<text x="148.39" y="277.21" text-anchor="middle" class="d">0.16</text>
<text x="174.13" y="277.21" text-anchor="middle" class="d">0.52</text>
<text x="199.87" y="277.21" text-anchor="middle" class="w">0.6</text>
<text x="225.60" y="277.21" text-anchor="middle" class="d">0.09</text>
<text x="251.34" y="277.21" text-anchor="middle" class="d">-0.18</text>
<text x="277.07" y="277.21" text-anchor="middle" class="d">-0.05</text>
<text x="302.81" y="277.21" text-anchor="middle" class="w">-0.93</text>
<text x="328.55" y="277.21" text-anchor="middle" class="d">-0.11</text>
<text x="354.29" y="277.21" text-anchor="middle" class="w">1</text>
<text x="380.02" y="277.21" text-anchor="middle" class="w">-0.95</text>
<text x="405.76" y="277.21" text-anchor="middle" class="w">-0.99</text>
<text x="431.50" y="277.21" text-anchor="middle" class="d">0.13</text>
<text x="457.23" y="277.21" text-anchor="middle" class="d">0.49</text>
<text x="96.92" y="302.74" text-anchor="middle" class="d">-0.22</text>
<text x="122.65" y="302.74" text-anchor="middle" class="d">-0.29</text>
<text x="148.39" y="302.74" text-anchor="middle" class="d">-0.11</text>
<text x="174.13" y="302.74" text-anchor="middle" class="d">-0.41</text>
<text x="199.87" y="302.74" text-anchor="middle" class="w">-0.58</text>
<text x="225.60" y="302.74" text-anchor="middle" class="d">-0.04</text>
<text x="251.34" y="302.74" text-anchor="middle" class="d">0.11</text>
<text x="277.07" y="302.74" text-anchor="middle" class="d">0.05</text>
<text x="302.81" y="302.74" text-anchor="middle" class="w">0.99</text>
<text x="328.55" y="302.74" text-anchor="middle" class="d">0.09</text>
<text x="354.29" y="302.74" text-anchor="middle" class="w">-0.95</text>
<text x="380.02" y="302.74" text-anchor="middle" class="w">1</text>
<text x="405.76" y="302.74" text-anchor="middle" class="w">0.98</text>
<text x="431.50" y="302.74" text-anchor="middle" class="d">-0.13</text>
<text x="457.23" y="302.74" text-anchor="middle" class="d">-0.42</text>
<text x="96.92" y="328.27" text-anchor="middle" class="d">-0.28</text>
<text x="122.65" y="328.27" text-anchor="middle" class="d">-0.37</text>
<text x="148.39" y="328.27" text-anchor="middle" class="d">-0.15</text>
<text x="174.13" y="328.27" text-anchor="middle" class="d">-0.49</text>
<text x="199.87" y="328.27" text-anchor="middle" class="w">-0.6</text>
<text x="225.60" y="328.27" text-anchor="middle" class="d">-0.07</text>
<text x="251.34" y="328.27" text-anchor="middle" class="d">0.16</text>
<text x="277.07" y="328.27" text-anchor="middle" class="d">0.05</text>
<text x="302.81" y="328.27" text-anchor="middle" class="w">0.96</text>
<text x="328.55" y="328.27" text-anchor="middle" class="d">0.1</text>
<text x="354.29" y="328.27" text-anchor="middle" class="w">-0.99</text>
<text x="380.02" y="328.27" text-anchor="middle" class="w">0.98</text>
<text x="405.76" y="328.27" text-anchor="middle" class="w">1</text>
<text x="431.50" y="328.27" text-anchor="middle" class="d">-0.13</text>
<text x="457.23" y="328.27" text-anchor="middle" class="d">-0.48</text>
<text x="96.92" y="353.79" text-anchor="middle" class="d">0.27</text>
<text x="122.65" y="353.79" text-anchor="middle" class="d">0.37</text>
<text x="148.39" y="353.79" text-anchor="middle" class="d">0.18</text>
<text x="174.13" y="353.79" text-anchor="middle" class="d">-0.25</text>
<text x="199.87" y="353.79" text-anchor="middle" class="w">0.6</text>
<text x="225.60" y="353.79" text-anchor="middle" class="d">0.19</text>
<text x="251.34" y="353.79" text-anchor="middle" class="d">-0.11</text>
<text x="277.07" y="353.79" text-anchor="middle" class="d">-0.01</text>
<text x="302.81" y="353.79" text-anchor="middle" class="d">-0.14</text>
<text x="328.55" y="353.79" text-anchor="middle" class="d">0</text>
<text x="354.29" y="353.79" text-anchor="middle" class="d">0.13</text>
<text x="380.02" y="353.79" text-anchor="middle" class="d">-0.13</text>
<text x="405.76" y="353.79" text-anchor="middle" class="d">-0.13</text>
<text x="431.50" y="353.79" text-anchor="middle" class="w">1</text>
<text x="457.23" y="353.79" text-anchor="middle" class="d">0.07</text>
<text x="96.92" y="379.32" text-anchor="middle" class="d">0.34</text>
<text x="122.65" y="379.32" text-anchor="middle" class="w">0.55</text>
<text x="148.39" y="379.32" text-anchor="middle" class="d">0.15</text>
<text x="174.13" y="379.32" text-anchor="middle" class="d">0.3</text>
<text x="199.87" y="379.32" text-anchor="middle" class="d">0.4</text>
<text x="225.60" y="379.32" text-anchor="middle" class="d">-0.26</text>
<text x="251.34" y="379.32" text-anchor="middle" class="d">-0.12</text>
<text x="277.07" y="379.32" text-anchor="middle" class="d">-0.07</text>
<text x="302.81" y="379.32" text-anchor="middle" class="d">-0.42</text>
<text x="328.55" y="379.32" text-anchor="middle" class="d">-0.4</text>
<text x="354.29" y="379.32" text-anchor="middle" class="d">0.49</text>
<text x="380.02" y="379.32" text-anchor="middle" class="d">-0.42</text>
<text x="405.76" y="379.32" text-anchor="middle" class="d">-0.48</text>
<text x="431.50" y="379.32" text-anchor="middle" class="d">0.07</text>
<text x="457.23" y="379.32" text-anchor="middle" class="w">1</text>
<text x="519.46" y="392.98">−1.00</text>
<text x="519.46" y="345.12">−0.75</text>
<text x="519.46" y="297.25">−0.50</text>
<text x="519.46" y="249.39">−0.25</text>
<text x="519.46" y="200.93">0.00</text>
<text x="519.46" y="153.07">0.25</text>
<text x="519.46" y="105.80">0.50</text>
<text x="519.46" y="57.94">0.75</text>
<text x="519.46" y="10.08">1.00</text>
</svg></body></html>
